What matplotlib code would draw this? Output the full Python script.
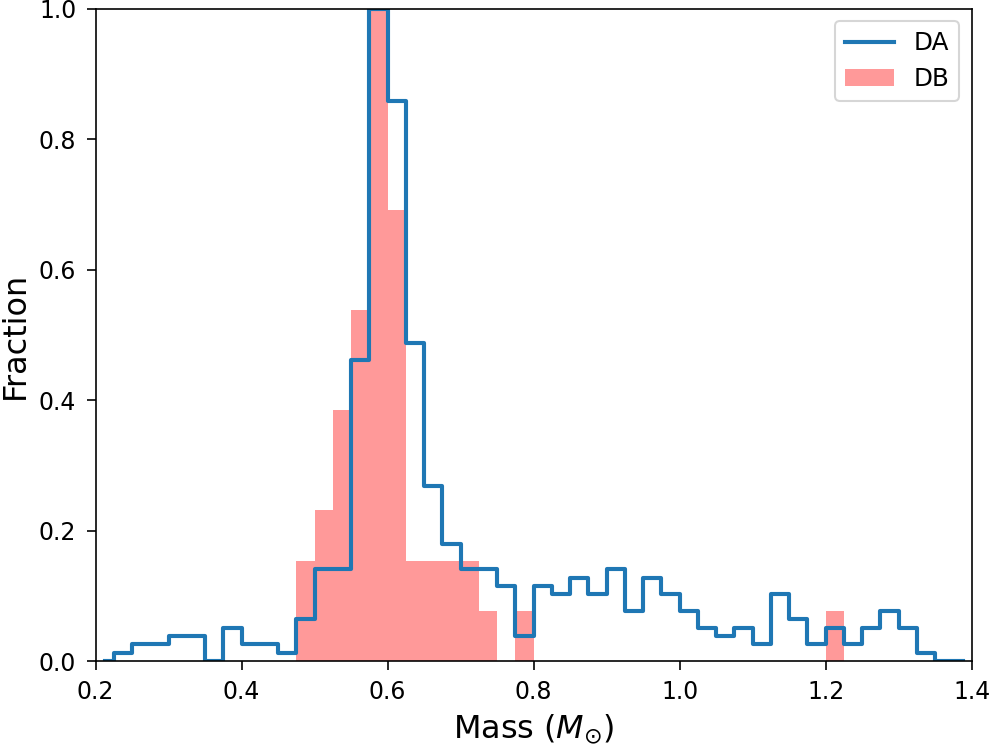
import numpy as np
import matplotlib
matplotlib.use("Agg")
import matplotlib.pyplot as plt

# mass bins, 0.025 wide from 0.2 to 1.4
bin_edges = np.arange(0.2, 1.4 + 1e-9, 0.025)
bin_left = bin_edges[:-1]
bin_mid = bin_left + 0.0125

# DA: normalised histogram (peak = 1)
da_frac = [
    0.0, 0.013, 0.026, 0.026, 0.038, 0.038, 0.0, 0.051,
    0.026, 0.026, 0.013, 0.064, 0.141, 0.141, 0.462, 1.0,
    0.859, 0.487, 0.269, 0.179, 0.141, 0.141, 0.115, 0.038,
    0.115, 0.103, 0.128, 0.103, 0.141, 0.077, 0.128, 0.103,
    0.077, 0.051, 0.038, 0.051, 0.026, 0.103, 0.064, 0.026,
    0.051, 0.026, 0.051, 0.077, 0.051, 0.013, 0.0, 0.0,
]

# DB: normalised histogram (peak = 1)
db_frac = [
    0.0, 0.0, 0.0, 0.0, 0.0, 0.0, 0.0, 0.0,
    0.0, 0.0, 0.0, 0.154, 0.231, 0.385, 0.538, 1.0,
    0.692, 0.154, 0.154, 0.154, 0.154, 0.077, 0.0, 0.077,
    0.0, 0.0, 0.0, 0.0, 0.0, 0.0, 0.0, 0.0,
    0.0, 0.0, 0.0, 0.0, 0.0, 0.0, 0.0, 0.0,
    0.077, 0.0, 0.0, 0.0, 0.0, 0.0, 0.0, 0.0,
]

dpi = 148
fig = plt.figure(figsize=(991 / dpi, 746 / dpi), dpi=dpi)
ax = fig.add_axes([0.0964, 0.1139, 0.9805 - 0.0964, 0.988 - 0.1139])

ax.plot(bin_mid, da_frac, drawstyle="steps-mid", color="#1f77b4", lw=2, label="DA")
ax.bar(bin_left, db_frac, width=0.025, align="edge", color="red", alpha=0.4, label="DB")

ax.set_xlim(0.2, 1.4)
ax.set_ylim(0, 1)
ax.set_xlabel(r"Mass ($M_{\odot}$)", fontsize=15.5)
ax.set_ylabel("Fraction", fontsize=15.5)
ax.tick_params(labelsize=11.5, length=4.4, pad=5)
ax.legend(loc="upper right", fontsize=12)

fig.savefig("out.png", dpi=dpi)
